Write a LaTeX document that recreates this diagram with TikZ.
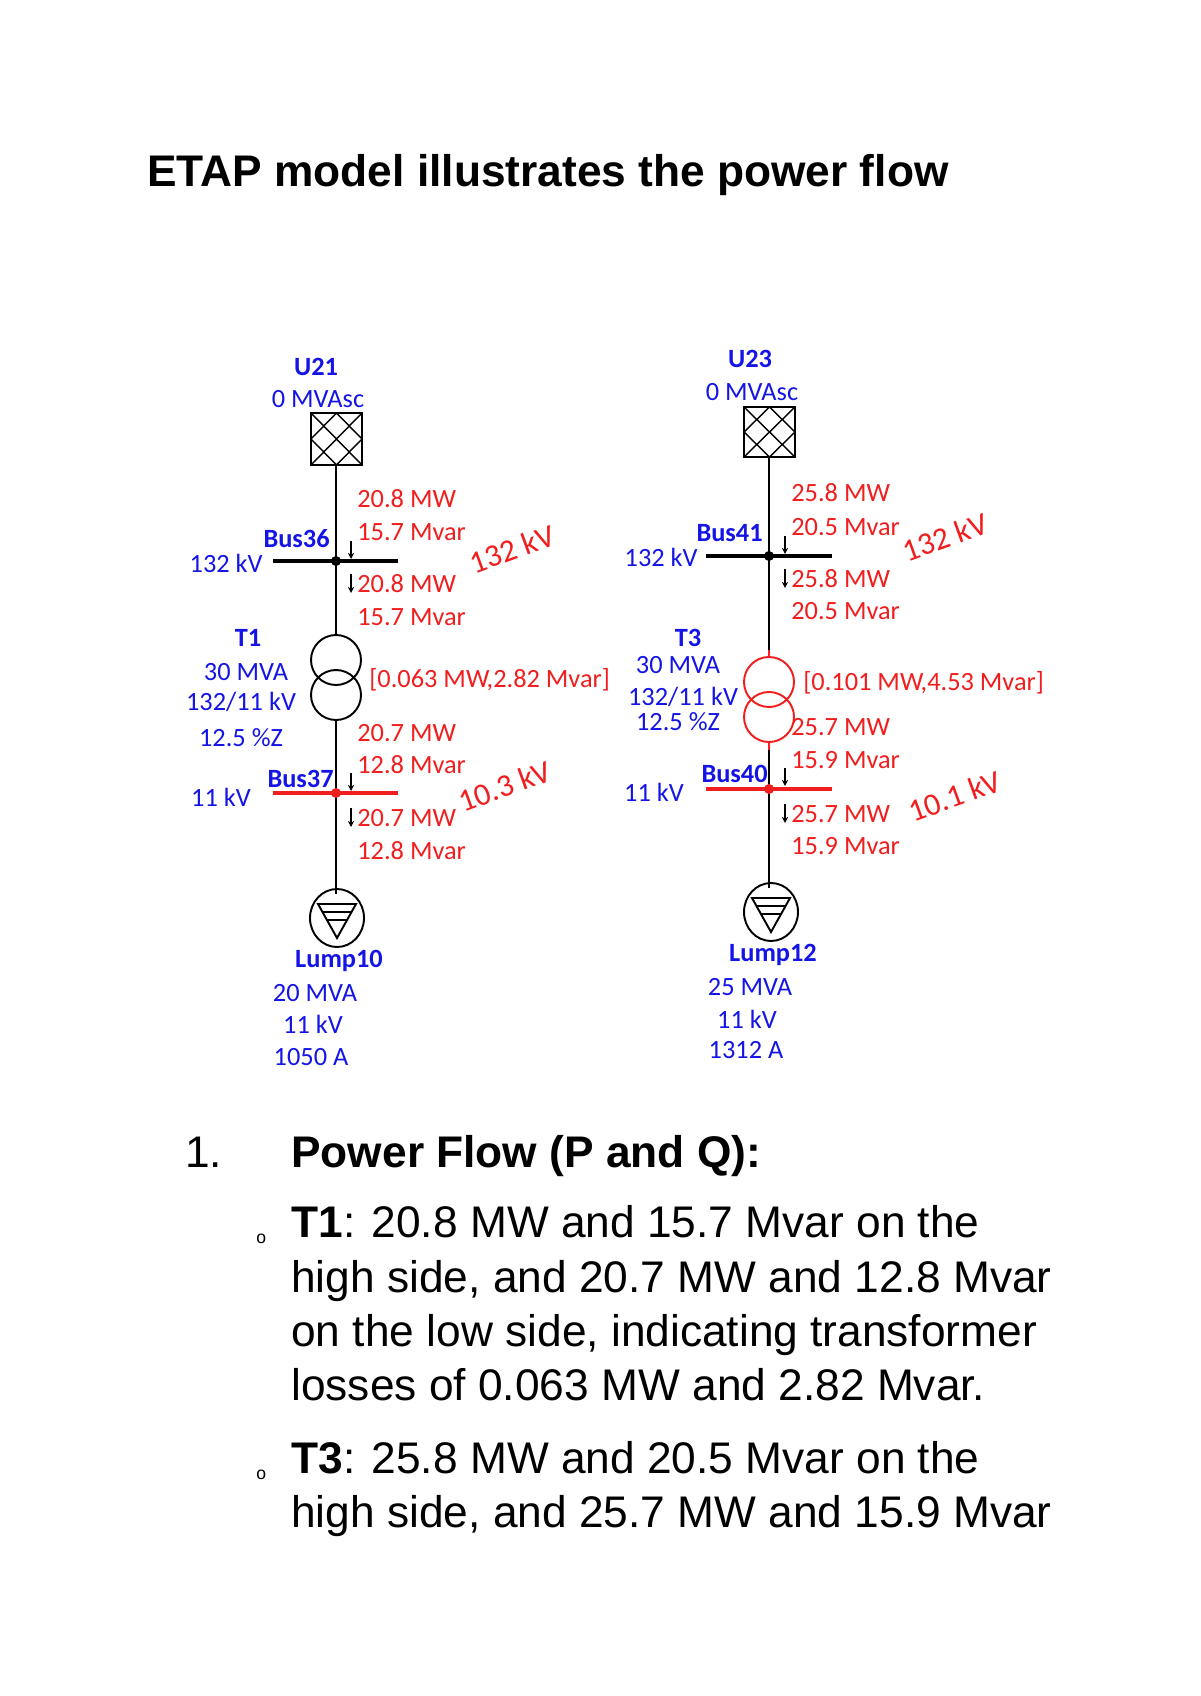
\documentclass[tikz,border=0pt]{standalone}
\usepackage{fontspec}
\setmainfont{Liberation Sans}
\newfontfamily\carfont{Carlito}
\usetikzlibrary{shapes.geometric,arrows.meta}
\definecolor{eblue}{RGB}{20,20,230}
\definecolor{ered}{RGB}{240,30,30}
\begin{document}
\begin{tikzpicture}[x=0.02cm,y=-0.02cm,
  lab/.style={font=\carfont\fontsize{15}{17}\selectfont,inner sep=0pt},
  bl/.style={lab,text=eblue},
  blb/.style={lab,text=eblue,font=\carfont\bfseries\fontsize{15}{17}\selectfont},
  rd/.style={lab,text=ered},
  rdk/.style={rd,font=\carfont\fontsize{18}{20}\selectfont,rotate=20},
  bus/.style={line width=2.2pt},
  wire/.style={line width=1.1pt},
  fa/.style={-{Stealth[length=3.5pt,width=3.5pt]},line width=0.7pt},
  body/.style={inner sep=0pt,font=\fontsize{25.2}{28}\selectfont,anchor=base west}]
\useasboundingbox (0,0) rectangle (1200,1696);
\node[body,font=\bfseries\fontsize{25.2}{28}\selectfont] (title) at (147,187) {ETAP model illustrates the power flow};

% ---------- left ----------
\node[blb] (u21) at (316,367) {U21};
\node[bl] (u21s) at (318,399) {0 MVAsc};
\draw[wire] (311,413) rectangle (362,465);
\draw[line width=0.8pt] (311,413)--(362,465) (311,465)--(362,413) (311,439)--(336.5,413)--(362,439)--(336.5,465)--cycle;
\coordinate (s1) at (336,465);
\coordinate (b36) at (336,561);
\draw[bus] (273,561)--(398,561);
\fill (b36) circle (5);
\draw[wire] (s1)--(b36)--(336,635);
\draw[wire] (336,660) circle (25);
\draw[wire] (336,695) circle (25);
\coordinate (b37) at (336,793);
\draw[wire] (336,720)--(b37)--(336,894);
\draw[bus,ered] (273,793)--(398,793);
\fill[ered] (b37) circle (5);
\draw[wire] (337,918) ellipse (27 and 29);
\draw[wire] (318,904)--(356,904)--(337,938)--cycle (322,912)--(352,912) (326,920)--(348,920);
\node[blb,anchor=base east] (bus36) at (330,547) {Bus36};
\node[bl,anchor=base east] (kv36) at (263,572) {132 kV};
\node[rd,anchor=base west] (f1) at (357,507) {20.8 MW};
\node[rd,anchor=base west] (f2) at (357,540) {15.7 Mvar};
\draw[fa] (351,541)--(351,559);
\node[rdk] (k1) at (512,549) {132 kV};
\node[rd,anchor=base west] (f3) at (357,592) {20.8 MW};
\draw[fa] (351,574)--(351,593);
\node[rd,anchor=base west] (f4) at (357,625) {15.7 Mvar};
\node[blb] (t1) at (248,638) {T1};
\node[bl] (t1a) at (246,672) {30 MVA};
\node[bl] (t1b) at (241,702) {132/11 kV};
\node[bl] (t1c) at (241,738) {12.5 \%Z};
\node[rd,anchor=base west] (l1) at (369,687) {[0.063 MW,2.82 Mvar]};
\node[rd,anchor=base west] (f5) at (357,741) {20.7 MW};
\node[rd,anchor=base west] (f6) at (357,773) {12.8 Mvar};
\draw[fa] (351,773)--(351,791);
\node[blb,anchor=base east] (bus37) at (334,787) {Bus37};
\node[bl] (kv37) at (221,797) {11 kV};
\node[rdk] (k2) at (505,786) {10.3 kV};
\node[rd,anchor=base west] (f7) at (357,826) {20.7 MW};
\draw[fa] (351,808)--(351,827);
\node[rd,anchor=base west] (f8) at (357,859) {12.8 Mvar};
\node[blb] (lump10) at (339,961) {Lump10};
\node[bl] (ld1) at (315,993) {20 MVA};
\node[bl] (ld2) at (313,1024) {11 kV};
\node[bl] (ld3) at (311,1057) {1050 A};

% ---------- right ----------
\node[blb] (u23) at (750,359) {U23};
\node[bl] (u23s) at (752,392) {0 MVAsc};
\draw[wire] (744,407) rectangle (795,457);
\draw[line width=0.8pt] (744,407)--(795,457) (744,457)--(795,407) (744,432)--(769.5,407)--(795,432)--(769.5,457)--cycle;
\coordinate (s2) at (769,457);
\coordinate (b41) at (769,556);
\draw[bus] (706,556)--(832,556);
\fill (b41) circle (5);
\draw[wire] (s2)--(b41)--(769,650);
\draw[wire,ered] (769,650)--(769,657);
\draw[wire,ered] (769,682) circle (25);
\draw[wire,ered] (769,717) circle (25);
\draw[wire,ered] (769,742)--(769,750);
\coordinate (b40) at (769,789);
\draw[wire] (769,750)--(b40)--(769,888);
\draw[bus,ered] (706,789)--(832,789);
\fill[ered] (b40) circle (5);
\draw[wire] (771,912) ellipse (27 and 29);
\draw[wire] (752,898)--(790,898)--(771,932)--cycle (756,906)--(786,906) (760,914)--(782,914);
\node[blb,anchor=base east] (bus41) at (763,541) {Bus41};
\node[bl,anchor=base east] (kv41) at (698,566) {132 kV};
\node[rd,anchor=base west] (g1) at (791,501) {25.8 MW};
\node[rd,anchor=base west] (g2) at (791,535) {20.5 Mvar};
\draw[fa] (785,536)--(785,554);
\node[rdk] (k3) at (945,537) {132 kV};
\node[rd,anchor=base west] (g3) at (791,587) {25.8 MW};
\draw[fa] (785,569)--(785,588);
\node[rd,anchor=base west] (g4) at (791,619) {20.5 Mvar};
\node[blb] (t3) at (688,638) {T3};
\node[bl] (t3a) at (678,665) {30 MVA};
\node[bl] (t3b) at (683,697) {132/11 kV};
\node[bl] (t3c) at (678,722) {12.5 \%Z};
\node[rd,anchor=base west] (l3) at (803,690) {[0.101 MW,4.53 Mvar]};
\node[rd,anchor=base west] (g5) at (791,735) {25.7 MW};
\node[rd,anchor=base west] (g6) at (791,768) {15.9 Mvar};
\draw[fa] (785,768)--(785,786);
\node[blb,anchor=base east] (bus40) at (768,782) {Bus40};
\node[bl] (kv40) at (654,792) {11 kV};
\node[rdk] (k4) at (955,796) {10.1 kV};
\node[rd,anchor=base west] (g7) at (791,822) {25.7 MW};
\draw[fa] (785,804)--(785,823);
\node[rd,anchor=base west] (g8) at (791,854) {15.9 Mvar};
\node[blb] (lump12) at (773,955) {Lump12};
\node[bl] (le1) at (750,987) {25 MVA};
\node[bl] (le2) at (747,1019) {11 kV};
\node[bl] (le3) at (746,1050) {1312 A};

% ---------- text ----------
\node[body] (n1) at (185,1167) {1.};
\node[body,font=\bfseries\fontsize{25.2}{28}\selectfont] (h1) at (291,1167) {Power Flow (P and Q):};
\node[body,font=\fontsize{10}{12}\selectfont] (bu1) at (256,1243) {o};
\node[body] (p1) at (291,1237) {\textbf{T1}: 20.8 MW and 15.7 Mvar on the};
\node[body] (p2) at (291,1292) {high side, and 20.7 MW and 12.8 Mvar};
\node[body] (p3) at (291,1346) {on the low side, indicating transformer};
\node[body] (p4) at (291,1400) {losses of 0.063 MW and 2.82 Mvar.};
\node[body,font=\fontsize{10}{12}\selectfont] (bu2) at (256,1479) {o};
\node[body] (p5) at (291,1473) {\textbf{T3}: 25.8 MW and 20.5 Mvar on the};
\node[body] (p6) at (291,1527) {high side, and 25.7 MW and 15.9 Mvar};
\end{tikzpicture}
\end{document}
